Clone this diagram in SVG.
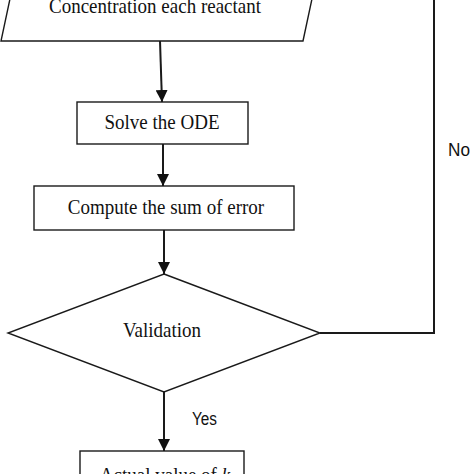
<svg xmlns="http://www.w3.org/2000/svg" width="474" height="474" viewBox="0 0 474 474">
<defs>
<style>
.shape{fill:#fff;stroke:#1a1a1a;stroke-width:1.4}
.conn{fill:none;stroke:#1a1a1a;stroke-width:2}
.t{font-family:"Liberation Serif","Times New Roman",serif;font-size:19px;fill:#111;text-anchor:middle}
.lbl{font-family:"Liberation Sans",Arial,sans-serif;font-size:18px;fill:#111}
</style>
<marker id="ah" markerWidth="12" markerHeight="12" viewBox="0 0 12 12" refX="12" refY="6" orient="auto" markerUnits="userSpaceOnUse">
<path d="M0,0 L12,6 L0,12 Z" fill="#111"/>
</marker>
</defs>
<rect width="474" height="474" fill="#fff"/>
<g id="connectors">
<line class="conn" x1="160" y1="41" x2="162" y2="102" marker-end="url(#ah)"/>
<line class="conn" x1="163" y1="144" x2="163" y2="186" marker-end="url(#ah)"/>
<line class="conn" x1="164" y1="230" x2="164" y2="274" marker-end="url(#ah)"/>
<line class="conn" x1="164" y1="392" x2="164" y2="451" marker-end="url(#ah)"/>
<polyline class="conn" points="320,333 434,333 434,-5"/>
<text class="lbl" x="448" y="156" textLength="22" lengthAdjust="spacingAndGlyphs">No</text>
<text class="lbl" x="192" y="425" textLength="25" lengthAdjust="spacingAndGlyphs">Yes</text>
</g>
<g id="input">
<polygon class="shape" points="1,41 303,41 316,-20 14,-20"/>
<text class="t" transform="translate(155,13) scale(1,1.1)">Concentration each reactant</text>
</g>
<g id="solve">
<rect class="shape" x="77" y="102" width="171" height="42"/>
<text class="t" transform="translate(162,129) scale(1,1.1)">Solve the ODE</text>
</g>
<g id="compute">
<rect class="shape" x="34" y="186" width="260" height="44"/>
<text class="t" transform="translate(166,214) scale(1,1.1)">Compute the sum of error</text>
</g>
<g id="validation">
<polygon class="shape" points="164,274 320,333 164,392 8,333"/>
<text class="t" transform="translate(162,337) scale(1,1.1)">Validation</text>
</g>
<g id="result">
<rect class="shape" x="80" y="451" width="164" height="40"/>
<text class="t" transform="translate(165,482) scale(1,1.1)">Actual value of <tspan font-style="italic">k</tspan></text>
</g>
</svg>
